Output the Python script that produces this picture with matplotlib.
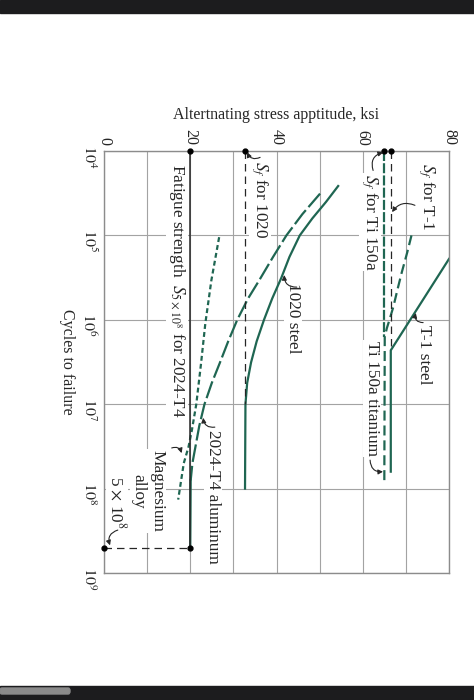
import matplotlib.pyplot as plt
from matplotlib.patches import Rectangle, FancyBboxPatch
from matplotlib.ticker import NullLocator

plt.rcParams['font.family'] = ['Liberation Serif', 'DejaVu Serif']
plt.rcParams['mathtext.fontset'] = 'stix'

GREEN = '#1f6652'
INK = '#262626'
GRID = '#a3a3a3'

# axis ticks
stress_ticks = [0, 20, 40, 60, 80]
stress_minor = [10, 30, 50, 70]
cycle_ticks = [1e4, 1e5, 1e6, 1e7, 1e8, 1e9]
cycle_labels = ['$10^4$', '$10^5$', '$10^6$', '$10^7$', '$10^8$', '$10^9$']

# S-N curves (cycles to failure, alternating stress in ksi)
t1_cycles = [1.9e5, 2.3e6, 6.3e7]
t1_stress = [80.0, 66.5, 66.5]
ti_cycles = [1.0e5, 1.6e5, 2.8e5, 4.5e5, 7.0e5, 1.0e6, 1.25e6, 1.6e6, 9.0e7]
ti_stress = [71.3, 70.3, 69.0, 68.0, 67.1, 66.2, 65.6, 65.1, 65.0]
steel1020_cycles = [2.6e4, 4.0e4, 6.3e4, 1.0e5, 1.8e5, 3.2e5, 5.6e5, 1.0e6,
                    1.8e6, 3.2e6, 5.6e6, 1.0e7, 1.0e8]
steel1020_stress = [54.3, 51.5, 48.3, 45.4, 43.0, 41.1, 39.0, 37.1,
                    35.4, 34.1, 33.2, 32.8, 32.7]
al_cycles = [3.2e4, 5.6e4, 1.0e5, 1.8e5, 3.4e5, 5.6e5, 1.0e6, 1.8e6, 3.2e6,
             5.6e6, 1.0e7, 1.8e7, 3.2e7, 5.0e7, 8.0e7]
al_stress = [50.1, 46.0, 42.3, 39.2, 36.0, 33.4, 30.9, 28.8, 26.9,
             25.0, 23.3, 22.1, 21.2, 20.5, 20.1]
al_tail_cycles = [8.0e7, 5.0e8]
al_tail_stress = [20.1, 20.0]
mg_cycles = [1.05e5, 3.4e5, 1.1e6, 3.3e6, 1.0e7, 2.0e7, 3.2e7, 5.0e7, 1.35e8]
mg_stress = [26.7, 24.9, 23.5, 22.5, 21.4, 20.4, 19.6, 18.5, 17.2]

# endurance limits / fatigue strength
sf_ti, sf_ti_end = 65.0, 1.6e6
sf_t1, sf_t1_end = 66.5, 2.3e6
sf_1020, sf_1020_end = 32.7, 1.0e7
s_al, n_al = 20.0, 5.0e8
n_start = 1e4

# label texts and their (stress, cycles) positions
label_texts = ['$S_f$ for T-1', '$S_f$ for Ti 150a', 'T-1 steel', 'Ti 150a titanium',
               '1020 steel', '$S_f$ for 1020',
               'Fatigue strength  $S_{5\\times10^8}$ for 2024-T4',
               '2024-T4 aluminum', 'Magnesium\nalloy', '5 $\\times$ 10$^8$']
label_pos = [(74.9, 3.5e4), (61.7, 7.0e4), (74.2, 2.6e6), (62.1, 8.5e6),
             (43.8, 9.5e5), (36.2, 3.8e4), (16.9, 4.5e5),
             (25.3, 1.26e8), (10.2, 1.07e8), (3.0, 1.45e8)]
# leader arrows: start, tip, curvature
arrow_start = [(72.1, 4.4e4), (62.4, 1.7e4), (74.0, 1.08e6), (61.7, 4.6e7),
               (44.7, 4.1e5), (36.2, 1.19e4), (25.7, 1.87e7), (15.7, 3.3e7), (3.2, 3.1e8)]
arrow_tip = [(66.8, 5.3e4), (64.7, 1.04e4), (72.3, 8.3e5), (64.7, 6.3e7),
             (41.8, 2.95e5), (33.2, 1.035e4), (23.0, 1.45e7), (18.0, 3.8e7), (1.4, 4.7e8)]
arrow_rad = [0.4, -0.5, -0.6, 0.5, -0.5, -0.5, -0.5, -0.5, 0.5]

fig = plt.figure(figsize=(4.74, 7.0), dpi=100)

# phone screenshot bars
fig.patches.append(Rectangle((0, 1 - 13 / 700), 1, 13 / 700, transform=fig.transFigure,
                             color='#1c1c1e', zorder=0))
fig.patches.append(Rectangle((0, 0), 1, 14 / 700, transform=fig.transFigure,
                             color='#1c1c1e', zorder=0))
fig.patches.append(FancyBboxPatch((0.0, 6 / 700), 70 / 474, 6 / 700, transform=fig.transFigure,
                                  boxstyle='round,pad=0,rounding_size=0.004',
                                  color='#8a8a8a', zorder=1))

ax = fig.add_axes([104 / 474, 1 - 573 / 700, 345 / 474, 422 / 700])

# curves
ax.plot(t1_stress, t1_cycles, color=GREEN, lw=1.6)
ax.plot(ti_stress, ti_cycles, color=GREEN, lw=1.6, dashes=(4.5, 2.2))
ax.plot(steel1020_stress, steel1020_cycles, color=GREEN, lw=1.6)
ax.plot(al_stress, al_cycles, color=GREEN, lw=1.6, dashes=(8, 1.8))
ax.plot(al_tail_stress, al_tail_cycles, color=GREEN, lw=1.6)
ax.plot(mg_stress, mg_cycles, color=GREEN, lw=1.6, dashes=(2.2, 1.4))

# reference lines
ax.plot([sf_ti, sf_ti], [n_start, sf_ti_end], color=GREEN, lw=1.6, dashes=(4.5, 1.0))
ax.plot([sf_t1, sf_t1], [n_start, sf_t1_end], color=INK, lw=0.9, dashes=(6, 4))
ax.plot([sf_1020, sf_1020], [n_start, sf_1020_end], color=INK, lw=0.9, dashes=(6, 4))
ax.plot([s_al, s_al], [n_start, n_al], color=INK, lw=1.1)
ax.plot([0, s_al], [n_al, n_al], color=INK, lw=0.9, dashes=(6, 4))

dot_stress = [sf_ti, sf_t1, sf_1020, s_al, s_al, 0]
dot_cycles = [n_start, n_start, n_start, n_start, n_al, n_al]
ax.plot(dot_stress, dot_cycles, 'o', ms=3.5, color='black', clip_on=False, zorder=5)

for text, pos in zip(label_texts, label_pos):
    ax.text(pos[0], pos[1], text, rotation=-90, ha='center', va='center',
            multialignment='center', fontsize=12.4, color=INK, zorder=4,
            bbox=dict(fc='white', ec='none', pad=0.6))

for start, tip, rad in zip(arrow_start, arrow_tip, arrow_rad):
    ax.annotate('', xy=tip, xytext=start, zorder=6,
                arrowprops=dict(arrowstyle='-|>', color=INK, lw=0.8, mutation_scale=7,
                                connectionstyle=f'arc3,rad={rad}', shrinkA=0, shrinkB=0))

# axes
ax.set_xlim(0, 80)
ax.set_yscale('log')
ax.set_ylim(1e9, 1e4)
ax.xaxis.tick_top()
ax.set_xticks(stress_ticks)
ax.set_xticks(stress_minor, minor=True)
ax.set_yticks(cycle_ticks, cycle_labels)
ax.yaxis.set_minor_locator(NullLocator())
ax.tick_params(axis='x', which='both', length=0, pad=4, labelrotation=-90,
               labelsize=11.5, colors=INK)
ax.tick_params(axis='y', which='both', length=0, pad=5, labelrotation=-90,
               labelsize=11.5, colors=INK)
ax.grid(True, which='both', color=GRID, lw=0.8)
ax.set_axisbelow(True)
for sp in ax.spines.values():
    sp.set_color('#8c8c8c')
    sp.set_linewidth(1.0)

ax.xaxis.set_label_position('top')
ax.set_xlabel('Altertnating stress apptitude, ksi', fontsize=11.5, color=INK)
ax.xaxis.set_label_coords(0.5, 1.085)
ax.xaxis.label.set_va('center')
ax.set_ylabel('Cycles to failure', rotation=-90, fontsize=11.5, color=INK)
ax.yaxis.set_label_coords(-0.107, 0.5)
ax.yaxis.label.set_va('center')

fig.savefig('out.png', dpi=100)
